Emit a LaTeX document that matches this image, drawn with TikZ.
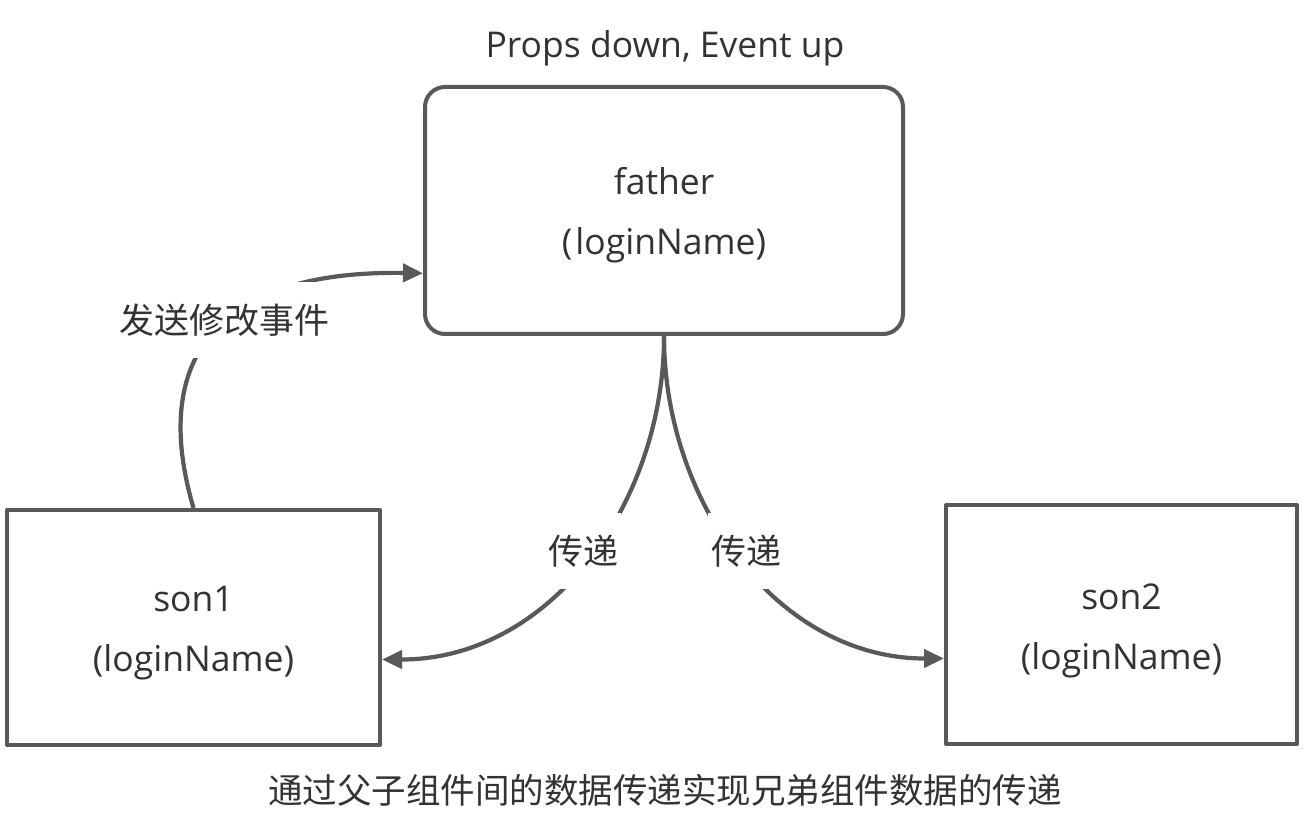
\documentclass[tikz,border=0pt]{standalone}
\usepackage{fontspec}
\setmainfont{Open Sans}
\newfontfamily\cjk{Noto Sans CJK SC}
\usetikzlibrary{arrows.meta,calc}
\definecolor{linecol}{HTML}{595959}
\definecolor{textcol}{HTML}{333333}
\begin{document}
\begin{tikzpicture}[x=1pt,y=1pt,
  txt/.style={text=textcol,font=\fontsize{35.5}{60}\selectfont,align=center},
  cjktxt/.style={text=textcol,font=\cjk\fontsize{35}{40}\selectfont},
  boxstyle/.style={draw=linecol,line width=4pt,line join=round,fill=white,inner sep=0pt},
  conn/.style={draw=linecol,line width=4.2pt},
  arr/.style={conn,-{Triangle[length=20pt,width=18pt]}},
  lbl/.style={cjktxt,fill=white,inner xsep=3pt,inner ysep=22pt}
]
\useasboundingbox[fill=white] (0,0) rectangle (1305,832);

\node[txt] (title) at (665,784) {Props down, Event up};
\node[boxstyle,rounded corners=20pt,minimum width=478pt,minimum height=247pt,
  label={[txt,yshift=-4.5pt]center:{father\\(\kern3pt loginName)}}] (father) at (664,621.5) {};
\node[boxstyle,minimum width=373pt,minimum height=235pt,
  label={[txt,yshift=-6pt]center:{son1\\(loginName)}}] (son1) at (193.5,204.5) {};
\node[boxstyle,minimum width=351pt,minimum height=239pt,
  label={[txt,yshift=-6pt]center:{son2\\(loginName)}}] (son2) at (1121.5,207.5) {};

\draw[arr] (son1.north) .. controls (150,472) and (215,562) .. ($(father.north west)!0.75!(father.south west)$);
\draw[arr] (father.south) to[out=-90,in=0] ($(son1.north east)!0.634!(son1.south east)$);
\draw[arr] (father.south) to[out=-90,in=180] ($(son2.north west)!0.64!(son2.south west)$);

\node[lbl] (l1) at (224,512) {发送修改事件};
\node[lbl] (l2) at (583,281) {传递};
\node[lbl] (l3) at (746,281) {传递};

\node[cjktxt,font=\cjk\fontsize{34.5}{40}\selectfont] (bottom) at (665,42) {通过父子组件间的数据传递实现兄弟组件数据的传递};
\end{tikzpicture}
\end{document}
